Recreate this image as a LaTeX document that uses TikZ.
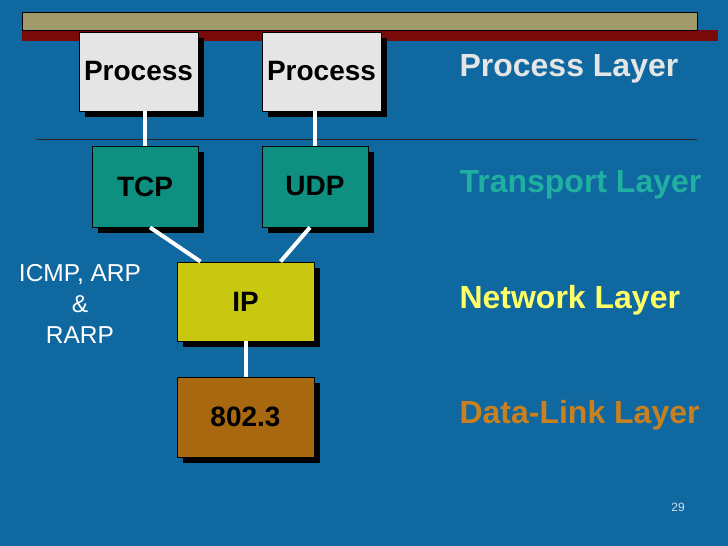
\documentclass[tikz,border=0pt]{standalone}
\usepackage{fontspec}
\setmainfont{Liberation Sans}
\usetikzlibrary{positioning}
\definecolor{bgblue}{HTML}{0F68A0}
\definecolor{barolive}{HTML}{A09A6A}
\definecolor{barred}{HTML}{7A0A0A}
\definecolor{tealbox}{HTML}{0E9080}
\definecolor{ipbox}{HTML}{C8C810}
\definecolor{ethbox}{HTML}{A86810}
\definecolor{transcol}{HTML}{20B0A0}
\definecolor{netcol}{HTML}{FFFF66}
\definecolor{linkcol}{HTML}{C88020}
\tikzset{
  box/.style={draw=black, thick, minimum width=#1, font=\fontsize{28}{30}\selectfont\bfseries,
    inner sep=0pt, minimum height=79pt},
  shade/.style={fill=black},
  link/.style={draw=white, line width=4pt},
  layer/.style={anchor=west, font=\fontsize{32}{36}\selectfont\bfseries}
}
\begin{document}
\begin{tikzpicture}[x=1pt, y=-1pt]
  \useasboundingbox (0,0) rectangle (728,546);
  \fill[bgblue] (0,0) rectangle (728,546);
  % Title bar
  \fill[barred] (22,30) rectangle (718,41);
  \draw[black, fill=barolive] (22,12) rectangle (697,30);
  \draw[black!85, thick] (36,139) -- (697,139);

  % Nodes
  \fill[shade] (85,38) rectangle (204,117);
  \node[box=119pt, fill=black!10] (proc1) at (138.5,71.5) {Process};
  \fill[shade] (268,38) rectangle (387,117);
  \node[box=119pt, fill=black!10] (proc2) at (321.5,71.5) {Process};
  \fill[shade] (98,152) rectangle (204,233);
  \node[box=106pt, minimum height=81pt, fill=tealbox] (tcp) at (145,186.5) {TCP};
  \fill[shade] (268,152) rectangle (374,233);
  \node[box=106pt, minimum height=81pt, fill=tealbox] (udp) at (315,186.5) {UDP};
  \fill[shade] (183,268) rectangle (320,347);
  \node[box=137pt, fill=ipbox] (ip) at (245.5,301.5) {IP};
  \fill[shade] (183,383) rectangle (320,463);
  \node[box=137pt, minimum height=80pt, fill=ethbox] (eth) at (245.5,417) {802.3};

  % Edges
  \draw[link] (proc1.south -| tcp.north) -- (tcp.north);
  \draw[link] (proc2.south -| udp.north) -- (udp.north);
  \draw[link] ([xshift=5pt]tcp.south) -- ([xshift=-45pt]ip.north);
  \draw[link] ([xshift=-5pt]udp.south) -- ([xshift=35pt]ip.north);
  \draw[link] (ip.south) -- (eth.north);

  % Labels
  \node[align=center, white, font=\fontsize{24.5}{31}\selectfont] (icmp) at (80,304) {ICMP, ARP\\\&\\RARP};
  \node[layer, black!10] (lproc) at (456,69) {Process Layer};
  \node[layer, transcol] (ltrans) at (456,185) {Transport Layer};
  \node[layer, netcol] (lnet) at (456,300) {Network Layer};
  \node[layer, linkcol] (llink) at (456,415) {Data-Link Layer};
  \node[white!80!bgblue, font=\fontsize{12}{13}\selectfont] (page) at (678,507) {29};
\end{tikzpicture}
\end{document}
